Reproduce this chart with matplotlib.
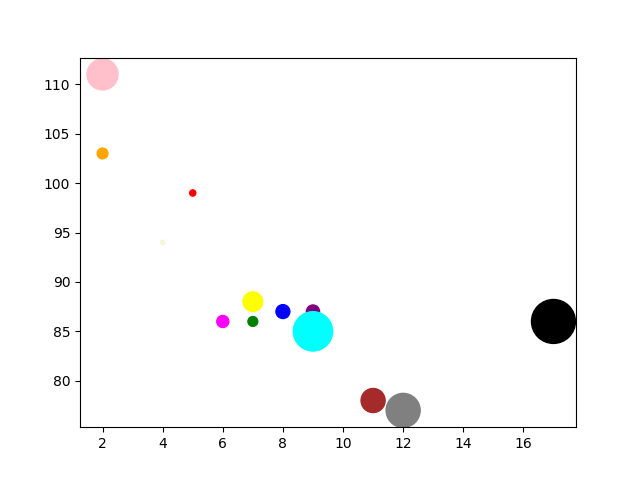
import matplotlib
matplotlib.use("Agg")
import matplotlib.pyplot as plt

x = [5, 7, 8, 7, 2, 17, 2, 9, 4, 11, 12, 9, 6]
y = [99, 86, 87, 88, 111, 86, 103, 87, 94, 78, 77, 85, 86]
colors = ["red", "green", "blue", "yellow", "pink", "black", "orange",
          "purple", "beige", "brown", "gray", "cyan", "magenta"]
sizes = [20, 50, 100, 200, 500, 1000, 60, 90, 10, 300, 600, 800, 75]

fig = plt.figure(figsize=(6.4, 4.8), dpi=100)
plt.scatter(x, y, c=colors, s=sizes)
plt.savefig("out.png")
